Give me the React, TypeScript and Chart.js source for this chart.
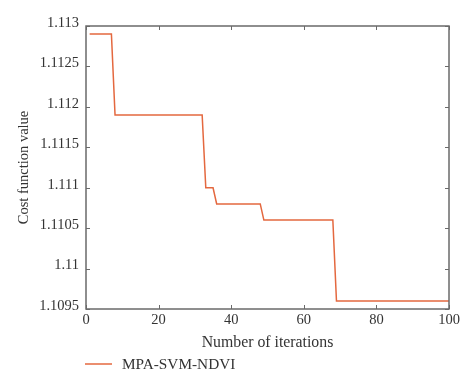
import React, { useEffect, useRef } from "react";
import { Chart, registerables } from "chart.js";

Chart.register(...registerables);

const iterations = [1, 7, 8, 32, 33, 35, 36, 48, 49, 68, 69, 100];
const costValues = [1.1129, 1.1129, 1.1119, 1.1119, 1.111, 1.111, 1.1108, 1.1108, 1.1106, 1.1106, 1.1096, 1.1096];
const seriesLabel = "MPA-SVM-NDVI";
const xTitle = "Number of iterations";
const yTitle = "Cost function value";

const FONT = "'Liberation Serif', 'DejaVu Serif', serif";
const LINE_COLOR = "#e4683f";
const AXIS_COLOR = "#6a6a6a";
const TEXT_COLOR = "#333333";

const boxPlugin = {
  id: "boxAndTicks",
  afterDraw(chart: any) {
    const { ctx, chartArea } = chart;
    const { left, right, top, bottom } = chartArea;
    ctx.save();
    ctx.strokeStyle = AXIS_COLOR;
    ctx.lineWidth = 1.5;
    ctx.strokeRect(left, top, right - left, bottom - top);
    ctx.lineWidth = 1;
    const len = 4;
    const xs = chart.scales.x;
    xs.ticks.forEach((t: any) => {
      const px = Math.round(xs.getPixelForValue(t.value)) + 0.5;
      ctx.beginPath();
      ctx.moveTo(px, bottom);
      ctx.lineTo(px, bottom - len);
      ctx.moveTo(px, top);
      ctx.lineTo(px, top + len);
      ctx.stroke();
    });
    const ys = chart.scales.y;
    ys.ticks.forEach((t: any) => {
      const py = Math.round(ys.getPixelForValue(t.value)) + 0.5;
      ctx.beginPath();
      ctx.moveTo(left, py);
      ctx.lineTo(left + len, py);
      ctx.moveTo(right, py);
      ctx.lineTo(right - len, py);
      ctx.stroke();
    });
    // legend
    const ly = 364;
    const lx = chartArea.left - 1;
    ctx.strokeStyle = LINE_COLOR;
    ctx.lineWidth = 1.5;
    ctx.beginPath();
    ctx.moveTo(lx, ly);
    ctx.lineTo(lx + 27, ly);
    ctx.stroke();
    ctx.fillStyle = TEXT_COLOR;
    ctx.font = `15.3px ${FONT}`;
    ctx.textBaseline = "middle";
    ctx.textAlign = "left";
    ctx.fillText(seriesLabel, lx + 37, ly + 1);
    ctx.restore();
  },
};

export default function App() {
  const ref = useRef<HTMLCanvasElement>(null);
  useEffect(() => {
    if (!ref.current) return;
    const chart = new Chart(ref.current, {
      type: "line",
      data: {
        datasets: [
          {
            label: seriesLabel,
            data: iterations.map((x, i) => ({ x, y: costValues[i] })),
            borderColor: LINE_COLOR,
            borderWidth: 1.5,
            pointRadius: 0,
            tension: 0,
            fill: false,
          },
        ],
      },
      options: {
        animation: false,
        responsive: false,
        devicePixelRatio: 1,
        layout: { padding: { left: 0, top: 26, right: 25, bottom: 32 } },
        plugins: { legend: { display: false }, tooltip: { enabled: false } },
        scales: {
          x: {
            type: "linear",
            min: 0,
            max: 100,
            grid: { display: false, drawTicks: false },
            border: { display: false },
            afterFit: (s: any) => { s.height = 43; },
            ticks: {
              stepSize: 20,
              padding: 2,
              color: TEXT_COLOR,
              font: { family: FONT, size: 14.5 },
              maxRotation: 0,
            },
            title: {
              display: true,
              text: xTitle,
              color: TEXT_COLOR,
              font: { family: FONT, size: 15.8 },
              padding: { top: 0, bottom: 0 },
            },
          },
          y: {
            min: 1.1095,
            max: 1.113,
            grid: { display: false, drawTicks: false },
            border: { display: false },
            afterFit: (s: any) => { s.width = 86; },
            ticks: {
              stepSize: 0.0005,
              padding: 7,
              labelOffset: -3,
              color: TEXT_COLOR,
              font: { family: FONT, size: 14.5 },
              callback: (v: any) => String(Number(Number(v).toFixed(4))),
            },
            title: {
              display: true,
              text: yTitle,
              color: TEXT_COLOR,
              font: { family: FONT, size: 14.5 },
              padding: { top: 15, bottom: 0 },
            },
          },
        },
      },
      plugins: [boxPlugin],
    });
    return () => chart.destroy();
  }, []);
  return (
    <div style={{ position: "fixed", left: 0, top: 0, width: 474, height: 384, background: "#fff" }}>
      <canvas ref={ref} width={474} height={384} />
    </div>
  );
}
